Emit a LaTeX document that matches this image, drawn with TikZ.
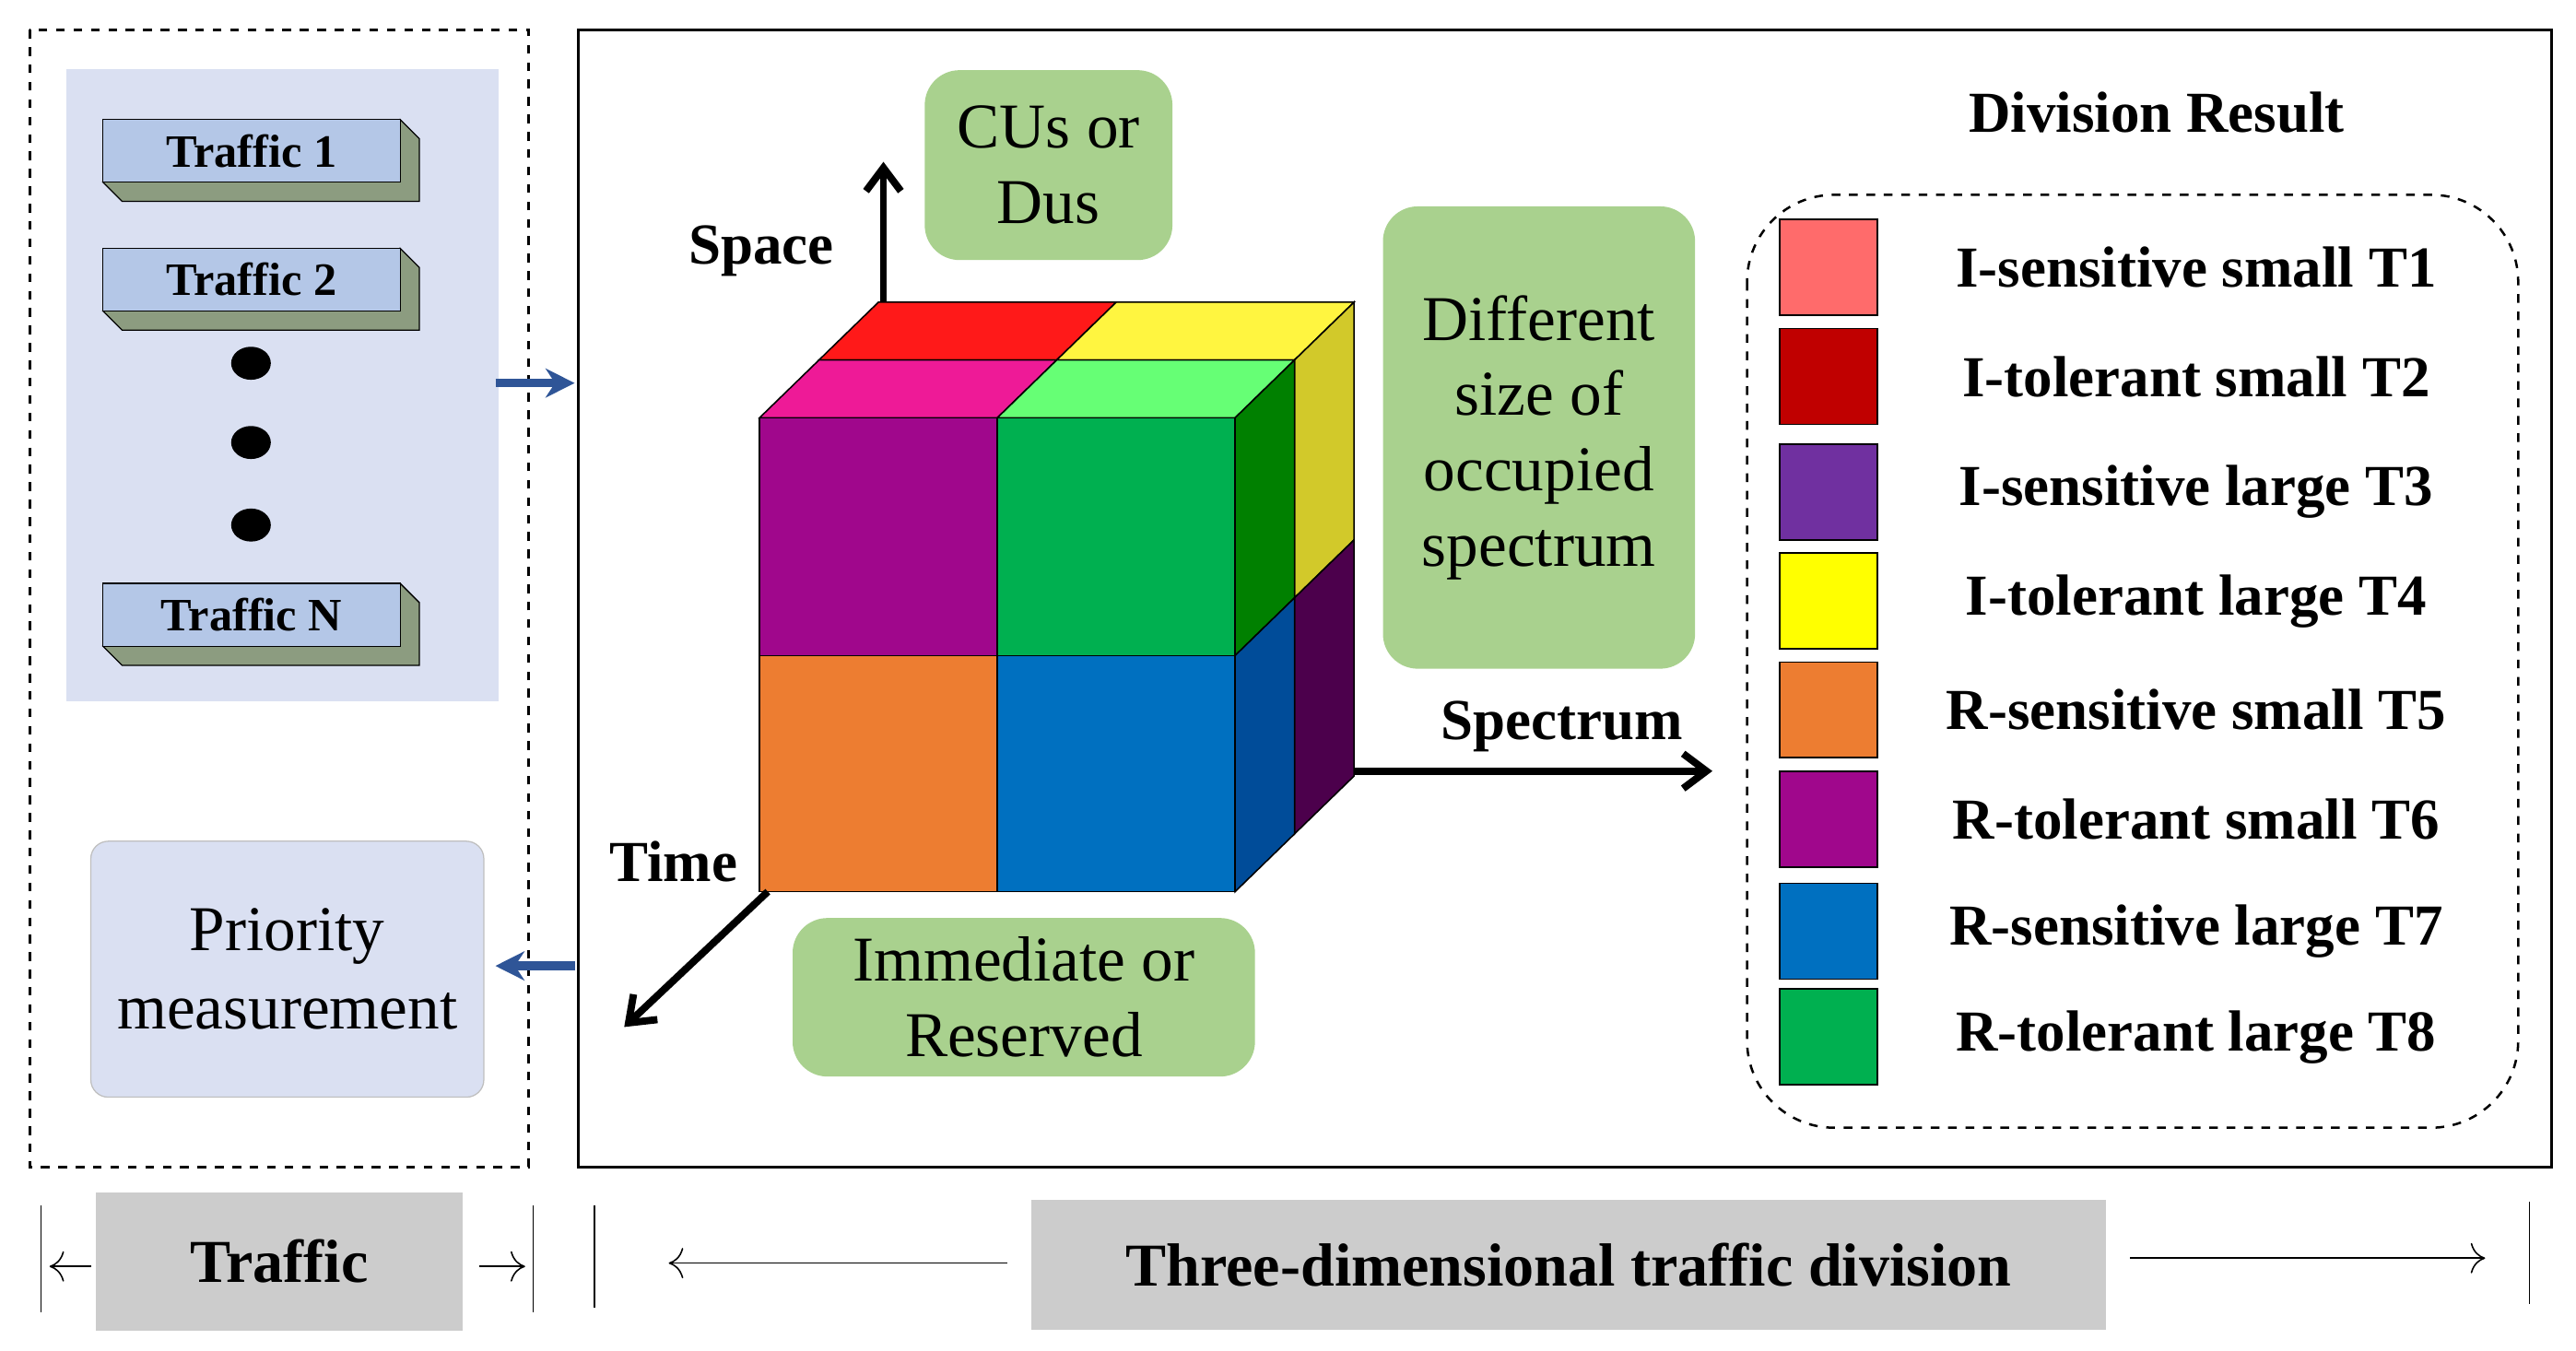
\documentclass[tikz,border=0pt]{standalone}
\usepackage{fontspec}
\setmainfont{Liberation Serif}
\usetikzlibrary{arrows.meta}
\begin{document}
\begin{tikzpicture}[x=0.02cm,y=-0.02cm,
  gbox/.style={fill=green!40!lime!35!gray!40, fill=gboxc, rounded corners=12pt, draw=none, align=center, font=\fontsize{22}{26}\selectfont},
  lab/.style={font=\bfseries\fontsize{20}{24}\selectfont},
  legt/.style={font=\bfseries\fontsize{20}{24}\selectfont, anchor=center},
  tbtn/.style={font=\bfseries\fontsize{16}{19}\selectfont},
  barr/.style={-{Stealth[length=10pt,width=10pt]}, line width=3pt, draw=arrblue},
  thinarr/.style={-{To[length=5pt]}, line width=0.5pt},
  cell/.style={draw=black, line width=0.5pt}]
\definecolor{gboxc}{HTML}{A9D18E}
\definecolor{arrblue}{HTML}{2F5597}
\definecolor{panel}{HTML}{DAE0F2}
\definecolor{btn}{HTML}{B4C7E7}
\definecolor{btnsh}{HTML}{8C9C80}
\useasboundingbox (0,0) rectangle (1560,818);
% left
\draw[dashed, line width=1pt] (18,18) rectangle (320,707);
\fill[panel] (40,42) rectangle (302,425);
\foreach \y/\t/\n in {72/Traffic 1/t1,150/Traffic 2/t2,353/Traffic N/tn}{
  \fill[btnsh] (242,\y) -- (254,\y+12) -- (254,\y+50) -- (74,\y+50) -- (62,\y+38) -- (242,\y+38) -- cycle;
  \draw[line width=0.4pt] (242,\y) -- (254,\y+12) -- (254,\y+50) -- (74,\y+50) -- (62,\y+38);
  \node[tbtn, fill=btn, draw=black, line width=0.4pt, minimum width=180*0.02cm, minimum height=38*0.02cm, anchor=north west, inner sep=0pt] (\n) at (62,\y) {\t};
}
\foreach \y in {220,268,318} \fill (152,\y) ellipse (12 and 10);
\node[fill=panel, draw=gray!50, rounded corners=6pt, minimum width=238*0.02cm, minimum height=155*0.02cm, align=center, font=\fontsize{22}{27}\selectfont] (prio) at (174,587) {Priority\\measurement};
% main
\draw[line width=1pt] (350,18) rectangle (1545,707);
\coordinate (a1) at (300,232); \coordinate (a2) at (348,232);
\coordinate (b1) at (348,585); \coordinate (b2) at (300,585);
\draw[barr] (a1) -- (a2);
\draw[barr] (b1) -- (b2);
% cube
\def\ox{36}\def\oy{-35}
\newcommand{\topcell}[4]{% x0 x1 d0 color
  \filldraw[cell, fill=#4] (#1+#3*\ox,253+#3*\oy) -- (#2+#3*\ox,253+#3*\oy) -- (#2+#3*\ox+\ox,253+#3*\oy+\oy) -- (#1+#3*\ox+\ox,253+#3*\oy+\oy) -- cycle;}
\newcommand{\sidecell}[4]{% y0 y1 d0 color
  \filldraw[cell, fill=#4] (748+#3*\ox,#1+#3*\oy) -- (748+#3*\ox+\ox,#1+#3*\oy+\oy) -- (748+#3*\ox+\ox,#2+#3*\oy+\oy) -- (748+#3*\ox,#2+#3*\oy) -- cycle;}
\topcell{460}{604}{1}{red!90!white}
\topcell{604}{748}{1}{yellow!75!white}
\topcell{460}{604}{0}{magenta!90!white}
\topcell{604}{748}{0}{green!90!cyan!60!white}
\sidecell{253}{397}{1}{yellow!80!black}
\sidecell{397}{540}{1}{violet!60!black}
\sidecell{253}{397}{0}{green!50!black}
\sidecell{397}{540}{0}{blue!50!cyan!60!black}
\definecolor{cpur}{HTML}{A0078C}\definecolor{cgrn}{HTML}{00B050}
\definecolor{corg}{HTML}{ED7D31}\definecolor{cblu}{HTML}{0070C0}
\filldraw[cell, fill=cpur] (460,253) rectangle (604,397);
\filldraw[cell, fill=cgrn] (604,253) rectangle (748,397);
\filldraw[cell, fill=corg] (460,397) rectangle (604,540);
\filldraw[cell, fill=cblu] (604,397) rectangle (748,540);
% axes
\coordinate (sp0) at (535,183); \coordinate (sp1) at (535,98);
\coordinate (sc0) at (820,467); \coordinate (sc1) at (1037,467);
\coordinate (ti0) at (465,540); \coordinate (ti1) at (378,622);
\draw[-{Straight Barb[length=8pt,width=12pt]}, line width=2.5pt] (sp0) -- (sp1);
\draw[-{Straight Barb[length=8pt,width=12pt]}, line width=2.5pt] (sc0) -- (sc1);
\draw[-{Straight Barb[length=8pt,width=12pt]}, line width=2.5pt] (ti0) -- (ti1);
\node[lab] (space) at (461,152) {Space};
\node[lab] (spec) at (946,440) {Spectrum};
\node[lab] (time) at (408,522) {Time};
\node[gbox, minimum width=150*0.02cm, minimum height=115*0.02cm] (cus) at (635,100) {CUs or\\Dus};
\node[gbox, minimum width=189*0.02cm, minimum height=280*0.02cm] (diff) at (932,265) {Different\\size of\\occupied\\spectrum};
\node[gbox, minimum width=280*0.02cm, minimum height=96*0.02cm] (imm) at (620,604) {Immediate or\\Reserved};
% legend
\node[lab] (divres) at (1306,68) {Division Result};
\draw[dashed, rounded corners=30pt, line width=0.8pt] (1058,118) rectangle (1525,683);
\definecolor{l1}{HTML}{FF6B6B}\definecolor{l2}{HTML}{C00000}\definecolor{l3}{HTML}{7030A0}
\definecolor{l4}{HTML}{FFFF00}\definecolor{l5}{HTML}{ED7D31}\definecolor{l6}{HTML}{A0078C}
\definecolor{l7}{HTML}{0070C0}\definecolor{l8}{HTML}{00B050}
\foreach \y/\c/\t/\n in {162/l1/I-sensitive small T1/g1,228/l2/I-tolerant small T2/g2,298/l3/I-sensitive large T3/g3,364/l4/I-tolerant large T4/g4,430/l5/R-sensitive small T5/g5,496/l6/R-tolerant small T6/g6,564/l7/R-sensitive large T7/g7,628/l8/R-tolerant large T8/g8}{
  \filldraw[draw=black, fill=\c, line width=0.6pt] (1078,\y-29) rectangle (1137,\y+29);
  \node[legt] (\n) at (1330,\y) {\t};
}
% bottom
\node[fill=gray!40, minimum width=222*0.02cm, minimum height=84*0.02cm, font=\bfseries\fontsize{21}{25}\selectfont] (traffic) at (169,764) {Traffic};
\draw (25,730) -- (25,795); \draw (323,730) -- (323,795);
\coordinate (tl0) at (55,767); \coordinate (tl1) at (30,767);
\coordinate (tr0) at (290,767); \coordinate (tr1) at (318,767);
\draw[thinarr] (tl0) -- (tl1); \draw[thinarr] (tr0) -- (tr1);
\node[fill=gray!40, minimum width=651*0.02cm, minimum height=79*0.02cm, font=\bfseries\fontsize{21}{25}\selectfont] (three) at (950,766) {Three-dimensional traffic division};
\draw (360,730) -- (360,792); \draw (1532,728) -- (1532,790);
\coordinate (hl0) at (610,765); \coordinate (hl1) at (405,765);
\coordinate (hr0) at (1290,762); \coordinate (hr1) at (1505,762);
\draw[thinarr] (hl0) -- (hl1); \draw[thinarr] (hr0) -- (hr1);
\end{tikzpicture}
\end{document}
